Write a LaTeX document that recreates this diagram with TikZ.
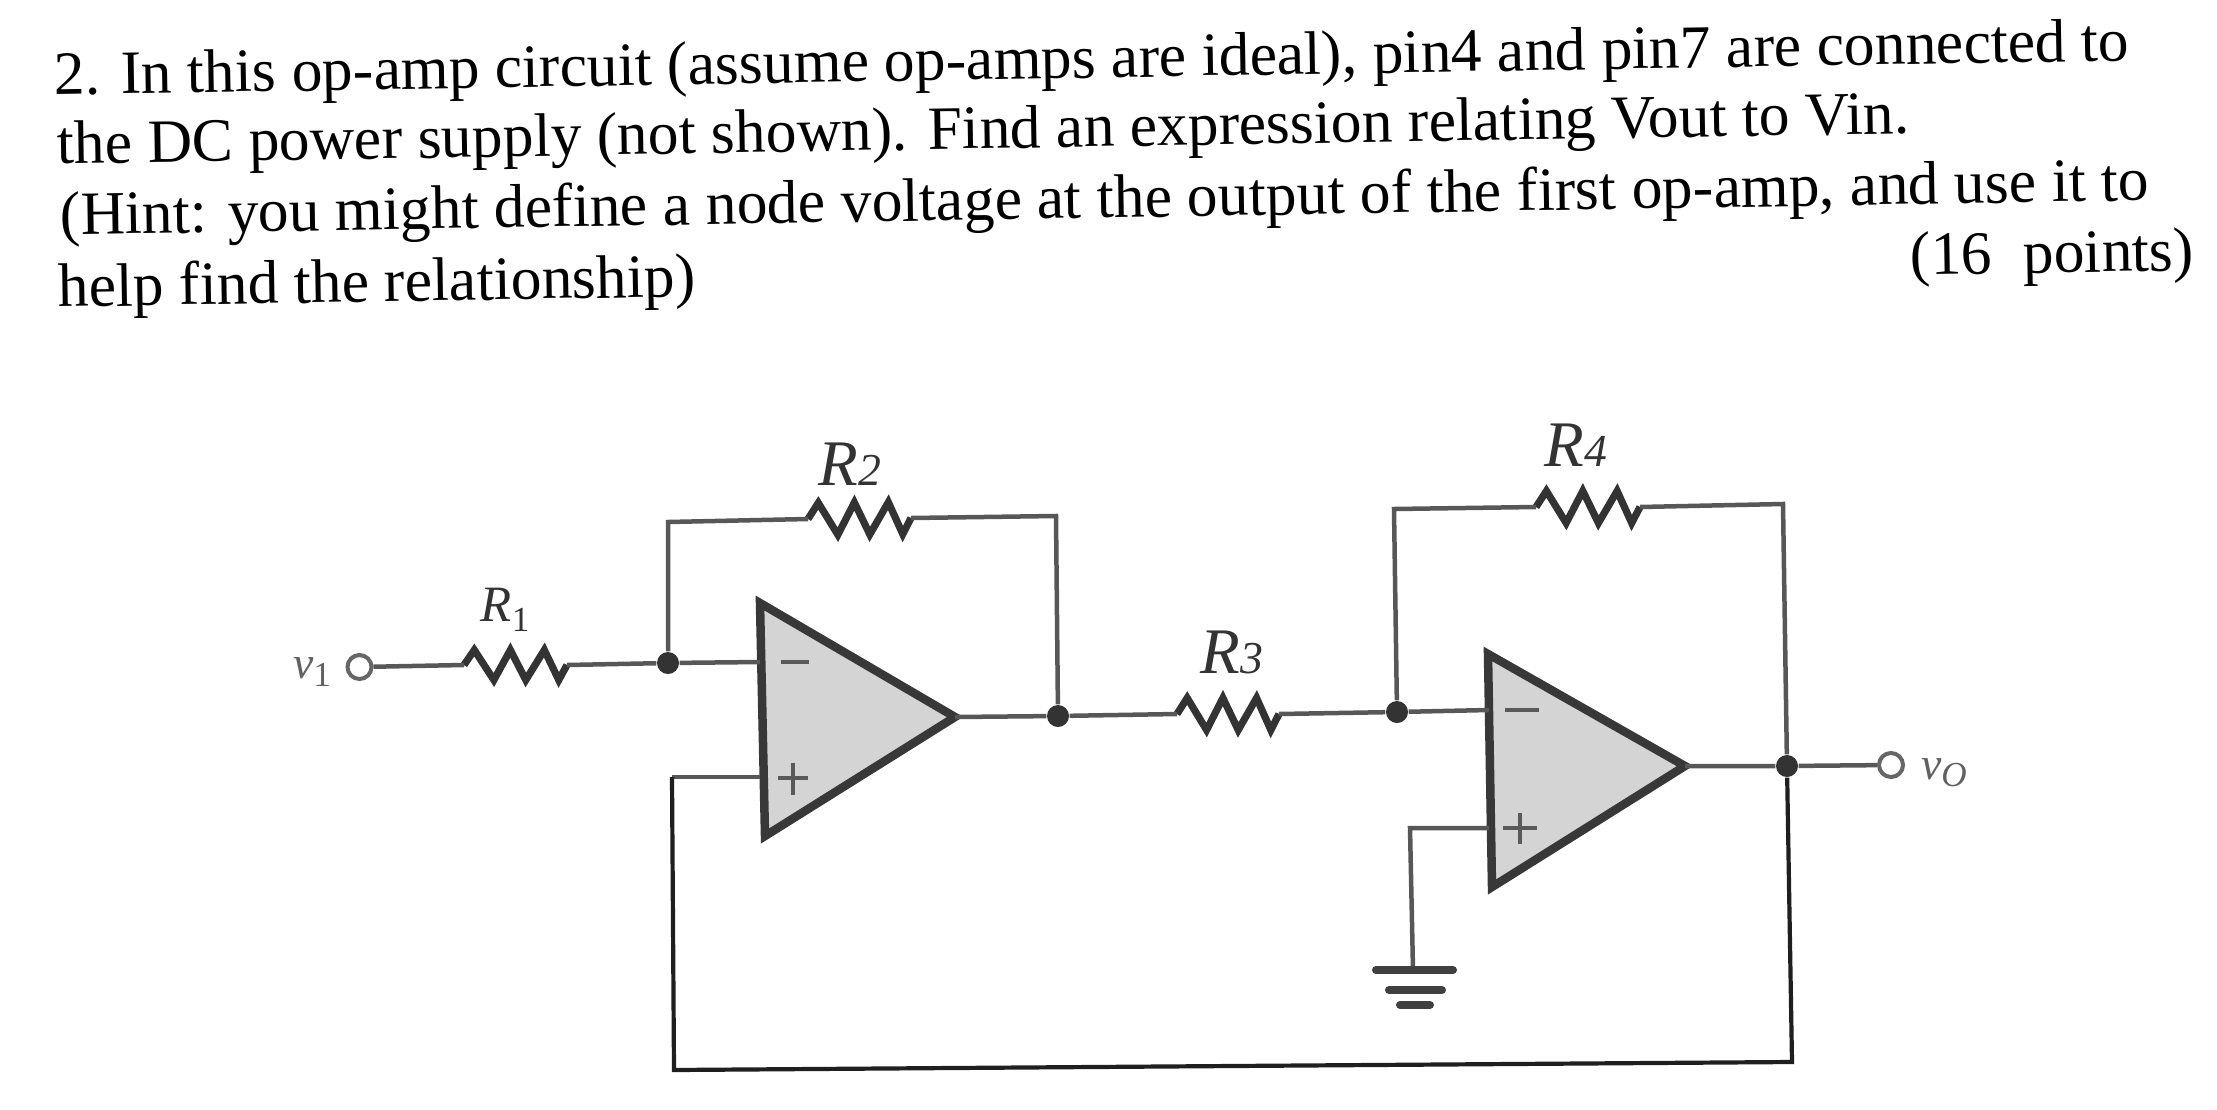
\documentclass[tikz,border=0pt]{standalone}
\usepackage{fontspec}
\setmainfont{Liberation Serif}
\usetikzlibrary{calc}
\newcommand{\subfont}{\fontsize{10}{12}\selectfont}
\newcommand{\zigres}[3]{\draw[zig] (#1) -- ($(#1)!.1!(#2)+(0,-#3)$) -- ($(#1)!.29!(#2)+(0,#3)$) -- ($(#1)!.45!(#2)+(0,-#3)$) -- ($(#1)!.6!(#2)+(0,#3)$) -- ($(#1)!.78!(#2)+(0,-#3)$) -- ($(#1)!.92!(#2)+(0,#3)$) -- (#2);}
\tikzset{
  qline/.style={anchor=base west,inner sep=0pt,rotate=0.95,font=\fontsize{17.5}{20}\selectfont,text=black},
  wire/.style={line width=0.45mm,draw=black!66},
  zig/.style={line width=0.72mm,draw=black!80,line join=miter},
  backwire/.style={line width=0.42mm,draw=black!88},
  opamp/.style={line width=0.85mm,draw=black!78,fill=black!17,line join=miter},
  sign/.style={line width=0.4mm,draw=black!65},
  gndbar/.style={line width=0.8mm,draw=black!75,line cap=round},
  dotnode/.style={circle,fill=black!80,inner sep=0pt,minimum size=2.2mm},
  term/.style={circle,draw=black!60,line width=0.4mm,fill=white,inner sep=0pt,minimum size=2.4mm},
  rlab/.style={inner sep=0pt,text=black!80,font=\fontsize{18.5}{20}\selectfont\itshape},
  vlab/.style={inner sep=0pt,text=black!62,font=\fontsize{13}{15}\selectfont\itshape}
}
\begin{document}
\begin{tikzpicture}[x=0.1mm,y=-0.1mm]
\useasboundingbox (0,0) rectangle (2217,1110);
% question text
\node[qline] (line1) at (54,95) {2. In this op-amp circuit (assume op-amps are ideal), pin4 and pin7 are connected to};
\node[qline] (line2) at (57,164) {the DC power supply (not shown). Find an expression relating Vout to Vin.};
\node[qline] (line3) at (60,235) {(Hint: you might define a node voltage at the output of the first op-amp, and use it to};
\node[qline] (line4) at (58,307) {help find the relationship)};
\node[qline] (points) at (1910,275) {(16\ \ points)};
% first op-amp
\coordinate (A1top) at (760,603);
\coordinate (A1bot) at (765,836);
\coordinate (A1tip) at (955,717);
\coordinate (A1m) at (760,662);
\coordinate (A1p) at (760,777);
\draw[opamp] (A1top) -- (A1tip) -- (A1bot) -- cycle;
\draw[sign] (781,662) -- (809,662);
\draw[sign] (778,778) -- (808,778);
\draw[sign] (793,763) -- (793,795);
% second op-amp
\coordinate (A2top) at (1488,654);
\coordinate (A2bot) at (1492,887);
\coordinate (A2tip) at (1685,766);
\coordinate (A2m) at (1489,710);
\coordinate (A2p) at (1489,828);
\draw[opamp] (A2top) -- (A2tip) -- (A2bot) -- cycle;
\draw[sign] (1505,710) -- (1539,710);
\draw[sign] (1503,828) -- (1537,828);
\draw[sign] (1520,813) -- (1520,844);
% terminals and junctions
\node[term] (vin) at (359.5,667) {};
\node[dotnode] (j1) at (668,663) {};
\node[dotnode] (j2) at (1058,716) {};
\node[dotnode] (j3) at (1397,712) {};
\node[dotnode] (j4) at (1787,766) {};
\node[term] (vout) at (1891,765) {};
% resistors
\coordinate (R1a) at (464,665);
\coordinate (R1b) at (567,665);
\coordinate (R2a) at (808,519);
\coordinate (R2b) at (911,518);
\coordinate (R3a) at (1177,714);
\coordinate (R3b) at (1279,714);
\coordinate (R4a) at (1536,507);
\coordinate (R4b) at (1640,507);
\zigres{R1a}{R1b}{15}
\zigres{R2a}{R2b}{16}
\zigres{R3a}{R3b}{16}
\zigres{R4a}{R4b}{16}
% wires
\coordinate (c1) at (668,522);
\coordinate (c2) at (1056,516);
\coordinate (c3) at (1394,509);
\coordinate (c4) at (1783,504);
\coordinate (c5) at (672,777);
\coordinate (c6) at (674,1070);
\coordinate (c7) at (1792,1062);
\coordinate (c8) at (1410,828);
\coordinate (gnd) at (1413,970);
\draw[wire] (vin) -- (R1a);
\draw[wire] (R1b) -- (j1) -- (A1m);
\draw[wire] (j1) -- (c1) -- (R2a);
\draw[wire] (R2b) -- (c2) -- (j2);
\draw[wire] (A1tip) -- (j2) -- (R3a);
\draw[wire] (R3b) -- (j3) -- (A2m);
\draw[wire] (j3) -- (c3) -- (R4a);
\draw[wire] (R4b) -- (c4) -- (j4);
\draw[wire] (A2tip) -- (j4) -- (vout);
\draw[wire] (A1p) -- (c5);
\draw[backwire] (c5) -- (c6) -- (c7) -- (j4);
\draw[wire] (A2p) -- (c8) -- (gnd);
% ground
\draw[gndbar] (1376,970) -- (1453,970);
\draw[gndbar] (1389,990) -- (1442,990);
\draw[gndbar] (1400,1005) -- (1430,1005);
% labels
\node[rlab] (labR1) at (505,610) {\fontsize{14.5}{18}\selectfont R\raisebox{-3pt}{\upshape\subfont 1}};
\node[rlab] (labR2) at (850,464) {R{\fontsize{13}{15}\selectfont 2}};
\node[rlab] (labR3) at (1232,652) {R{\fontsize{13}{15}\selectfont 3}};
\node[rlab] (labR4) at (1576,445) {R{\fontsize{13}{15}\selectfont 4}};
\node[vlab] (labv1) at (312,672) {v\raisebox{-2pt}{\upshape\subfont 1}};
\node[vlab] (labvo) at (1944,773) {v\raisebox{-2pt}{\subfont O}};
\end{tikzpicture}
\end{document}
